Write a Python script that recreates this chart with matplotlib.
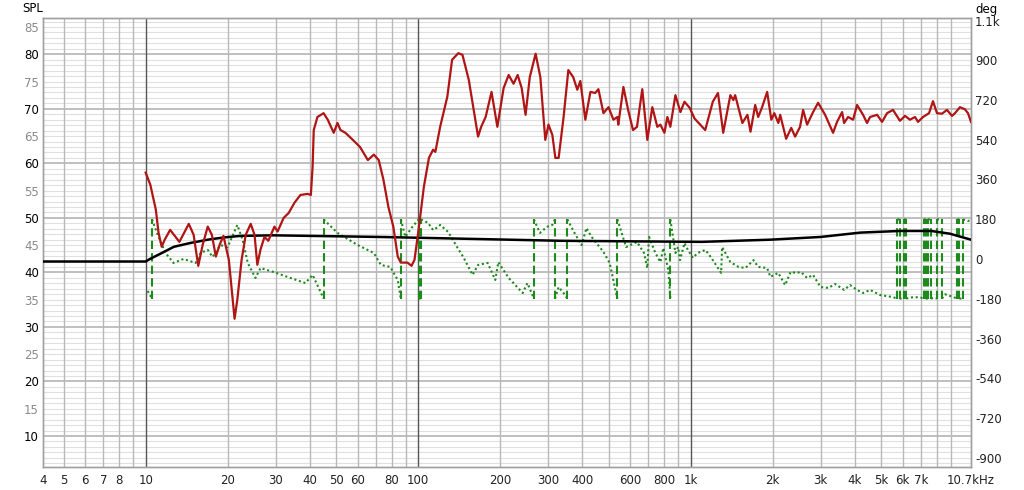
import numpy as np
import matplotlib
matplotlib.use("Agg")
import matplotlib.pyplot as plt
from matplotlib.lines import Line2D
from matplotlib.transforms import blended_transform_factory

# SPL trace (red), Hz / dB
spl_freq = [10.0, 10.4, 10.9, 11.15, 11.45, 11.75, 12.3, 13.3, 14.4, 15.0, 15.6, 16.2,
            16.9, 17.5, 18.1, 18.7, 19.3, 20.2, 20.7, 21.2, 21.7, 22.5, 23.3, 24.3,
            25.1, 25.7, 26.4, 27.3, 28.2, 29.7, 30.5, 32.1, 33.5, 35.2, 37.0, 39.3,
            40.4, 41.0, 41.4, 42.7, 45.0, 46.6, 49.0, 50.6, 51.9, 54.1, 57.6, 61.2,
            65.4, 68.8, 71.7, 74.6, 77.8, 81.1, 84.2, 86.4, 91.4, 94.6, 97.0, 100.4,
            105, 109.6, 113.5, 115.7, 120.5, 128, 133.3, 140.5, 145.5, 153.5, 166, 170.4,
            177, 186, 195.4, 206, 215, 224, 232, 240, 248, 257, 270, 281,
            293, 301, 311, 319, 328, 342, 356, 371, 384, 394, 411, 429,
            447, 459, 479, 500, 521, 539, 543, 567, 590, 615, 636, 665,
            694, 724, 755, 775, 802, 822, 843, 880, 918, 950, 992, 1035,
            1132, 1207, 1261, 1318, 1400, 1436, 1458, 1550, 1617, 1660, 1727, 1771,
            1831, 1911, 1979, 2030, 2100, 2133, 2243, 2342, 2420, 2523, 2589, 2678,
            2817, 2939, 3118, 3335, 3449, 3600, 3661, 3786, 3950, 4085, 4297, 4445,
            4560, 4838, 5045, 5264, 5536, 5868, 6127, 6388, 6667, 6838, 7134, 7505,
            7760, 8026, 8373, 8734, 9110, 9345, 9745, 10168, 10430, 10700]
spl_db = [58.3, 56.1, 51.5, 47.3, 44.7, 46.0, 47.8, 45.6, 48.9, 46.9, 41.2, 45.1,
          48.4, 46.9, 42.9, 45.1, 46.7, 42.3, 36.8, 31.5, 35.0, 42.3, 46.9, 48.9,
          46.9, 41.4, 44.2, 46.5, 45.8, 48.4, 47.5, 50.0, 50.9, 52.8, 54.2, 54.4,
          54.2, 59.4, 66.1, 68.5, 69.2, 68.0, 65.6, 67.4, 66.1, 65.6, 64.3, 63.0,
          60.6, 61.6, 60.6, 57.0, 52.0, 48.4, 42.9, 41.8, 41.8, 41.2, 42.3, 47.8,
          55.7, 61.0, 62.5, 62.1, 66.7, 72.2, 79.0, 80.2, 79.9, 75.3, 64.9, 66.7,
          68.5, 73.1, 66.7, 73.8, 76.2, 74.6, 76.2, 73.8, 68.9, 75.8, 80.1, 75.8,
          64.3, 67.1, 65.2, 61.0, 61.0, 68.5, 77.1, 75.8, 73.5, 75.1, 68.0, 73.1,
          72.9, 73.6, 69.2, 70.3, 68.0, 68.5, 67.1, 74.0, 69.8, 66.1, 66.7, 73.6,
          64.3, 70.3, 66.7, 67.1, 65.6, 68.5, 66.7, 72.5, 69.4, 71.3, 70.2, 68.2,
          66.1, 71.3, 72.9, 65.6, 72.5, 71.6, 72.5, 67.4, 68.9, 65.8, 70.7, 68.5,
          70.3, 73.1, 68.0, 69.2, 67.4, 68.9, 64.5, 66.5, 64.9, 66.7, 69.8, 67.1,
          69.4, 71.1, 68.9, 65.6, 67.6, 69.4, 67.4, 68.5, 68.0, 70.7, 68.9, 67.4,
          68.5, 68.9, 67.6, 69.2, 69.8, 67.8, 68.7, 68.0, 68.5, 67.6, 68.5, 69.2,
          71.4, 69.2, 69.1, 69.8, 68.7, 69.2, 70.3, 69.9, 69.2, 67.6]

# black trace
black_freq = [4.2, 10.0, 10.4, 11.3, 12.7, 14.6, 16.9, 19.3, 22.3, 29.5, 73, 333,
              1100, 1960, 3000, 4200, 5870, 7640, 8950, 10700]
black_db = [42.0, 42.0, 42.5, 43.4, 44.7, 45.4, 46.0, 46.4, 46.7, 46.8, 46.5, 45.8,
            45.6, 46.0, 46.5, 47.3, 47.6, 47.6, 47.1, 46.0]

# wrapped phase (green), Hz / deg
phase_freq = [10.17, 10.55, 10.55, 11.15, 11.84, 12.65, 13.77, 15.25, 15.9, 16.9, 17.6, 18.8,
              20.0, 21.7, 22.7, 23.7, 25.3, 26.4, 29.5, 34.0, 38.6, 41.0, 45.0, 45.0,
              50.6, 60.0, 68.8, 73.0, 79.0, 84.2, 86.4, 86.4, 89.8, 94.6, 100.4, 100.4,
              102.5, 102.5, 108.8, 113.5, 118.5, 120.5, 129, 139, 146.5, 158.5, 166, 180,
              192, 197, 215, 224, 242, 252, 266, 266, 280, 297, 311, 318,
              318, 328, 342, 353, 353, 375, 398, 415, 433, 479, 505, 530,
              539, 539, 580, 636, 675, 694, 704, 743, 775, 795, 829, 843,
              843, 880, 900, 915, 950, 978, 1020, 1061, 1134, 1186, 1295, 1306,
              1400, 1500, 1590, 1703, 1771, 1911, 1963, 2100, 2224, 2330, 2440, 2545,
              2678, 2817, 3000, 3208, 3393, 3662, 3850, 4085, 4297, 4560, 4964, 5497,
              5740, 5740, 5850, 5850, 6080, 6080, 6190, 6190, 6600, 7000, 7180, 7180,
              7300, 7300, 7430, 7430, 7630, 7630, 7800, 8026, 8026, 8373, 8373, 8600,
              9000, 9530, 9530, 9700, 9700, 10000, 10000, 10400, 10700]
phase_deg = [-145, -179, 179, 100, 27, -18, 0, -18, 27, 41, 9, 63,
             54, 154, 86, -18, -86, -41, -59, -86, -109, -72, -179, 179,
             118, 63, 27, -27, -36, -95, -179, 179, 100, 140, 179, -179,
             -179, 179, 163, 131, 145, 154, 122, 54, 9, -72, -27, -18,
             -95, -14, -86, -109, -154, -109, -179, 179, 118, 145, 154, 179,
             -179, -127, -154, -179, 179, 118, 63, 140, 100, 32, -18, -140,
             -179, 179, 54, 77, 27, -41, 100, 27, -14, 50, -50, -179,
             179, 27, 54, -5, 72, 41, 5, 27, 41, 9, -63, 54,
             -14, -36, -41, -5, -36, -41, -81, -63, -118, -59, -63, -59,
             -86, -72, -127, -131, -113, -140, -118, -140, -154, -140, -163, -172,
             -179, 179, 179, -179, -179, 179, 179, -179, -172, -175, -179, 179,
             179, -179, -179, 179, 179, -179, -176, -179, 179, 179, -179, -160,
             -168, -179, 179, 179, -179, -179, 179, 172, 175]

spl_ticks = list(range(10, 90, 5))
deg_ticks = [-900, -720, -540, -360, -180, 0, 180, 360, 540, 720, 900, 1075]
deg_labels = ['-900', '-720', '-540', '-360', '-180', '0', '180', '360', '540', '720', '900', '1.1k']
freq_ticks = [4.2, 5, 6, 7, 8, 10, 20, 30, 40, 50, 60, 80, 100, 200, 300, 400, 600, 800,
              1000, 2000, 3000, 4000, 5000, 6000, 7000, 10700]
freq_labels = ['4', '5', '6', '7', '8', '10', '20', '30', '40', '50', '60', '80', '100',
               '200', '300', '400', '600', '800', '1k', '2k', '3k', '4k', '5k', '6k', '7k',
               '10.7kHz']

plt.rcParams['font.family'] = ['DejaVu Sans']
plt.rcParams['font.size'] = 8

fig = plt.figure(figsize=(10.24, 4.9), dpi=100)
ax = fig.add_axes([43 / 1024, 1 - 467 / 490, (971 - 43) / 1024, (467 - 18) / 490])
ax2 = ax.twinx()
# grid + phase underneath, SPL on top
ax.set_zorder(2)
ax2.set_zorder(1)
ax.patch.set_visible(False)
ax2.patch.set_facecolor('white')

ax.set_xscale('log')
ax.set_xlim(4.2, 10700)
ax.set_ylim(4.32, 86.65)
ax2.set_ylim(-941, 1090)

# grid drawn on the lower axes
hy = blended_transform_factory(ax2.transAxes, ax.transData)
for v in range(5, 87):
    col = '#b4b4b4' if v % 10 == 0 else '#e0e0e0'
    lw = 1.2 if v % 10 == 0 else 0.8
    ax2.add_line(Line2D([0, 1], [v, v], transform=hy, color=col, lw=lw, zorder=0))
for dec in [1, 10, 100, 1000]:
    for m in range(1, 10):
        f = dec * m
        if f < 4.2 or f > 10700:
            continue
        if m == 1:
            ax2.axvline(f, color='#555555', lw=1.0, zorder=0.5)
        else:
            ax2.axvline(f, color='#b8b8b8', lw=1.0, zorder=0.5)

# phase: dotted trace, dashed wrap connectors
pf = np.array(phase_freq, dtype=float)
pdg = np.array(phase_deg, dtype=float)
jumps = np.where(np.abs(np.diff(pdg)) > 300)[0]
ax2.plot(np.insert(pf, jumps + 1, np.nan), np.insert(pdg, jumps + 1, np.nan),
         color='#1e8a1e', lw=1.5, ls=(0, (1, 1.3)), zorder=2)
ax2.vlines(pf[jumps], -180, 180, colors='#1e8a1e', lw=1.5, linestyles=(0, (4, 2)), zorder=2)

ax.plot(black_freq, black_db, color='black', lw=1.8, zorder=3)
ax.plot(spl_freq, spl_db, color='#b01414', lw=1.6, zorder=4)

ax.set_xticks(freq_ticks)
ax.set_xticklabels(freq_labels)
ax.xaxis.set_minor_locator(matplotlib.ticker.NullLocator())
ax.set_yticks(spl_ticks)
ax.set_yticklabels([str(v) for v in spl_ticks])
for lab, v in zip(ax.get_yticklabels(), spl_ticks):
    lab.set_color('black' if v % 10 == 0 else '#8a8a8a')
ax2.set_yticks(deg_ticks)
ax2.set_yticklabels(deg_labels)
ax.tick_params(axis='both', length=0, pad=3, labelsize=8.5)
ax2.tick_params(axis='y', length=0, pad=3, labelsize=8.5, labelcolor='#222222')
ax.tick_params(axis='x', pad=5, labelcolor='#222222')

for a in (ax, ax2):
    for s in a.spines.values():
        s.set_color('#a0a0a0')
        s.set_linewidth(1.0)

fig.text(22 / 1024, 1 - 9 / 490, 'SPL', fontsize=8.5, va='center', ha='left')
fig.text(975 / 1024, 1 - 9 / 490, 'deg', fontsize=8.5, va='center', ha='left')

fig.savefig('out.png', dpi=100)
